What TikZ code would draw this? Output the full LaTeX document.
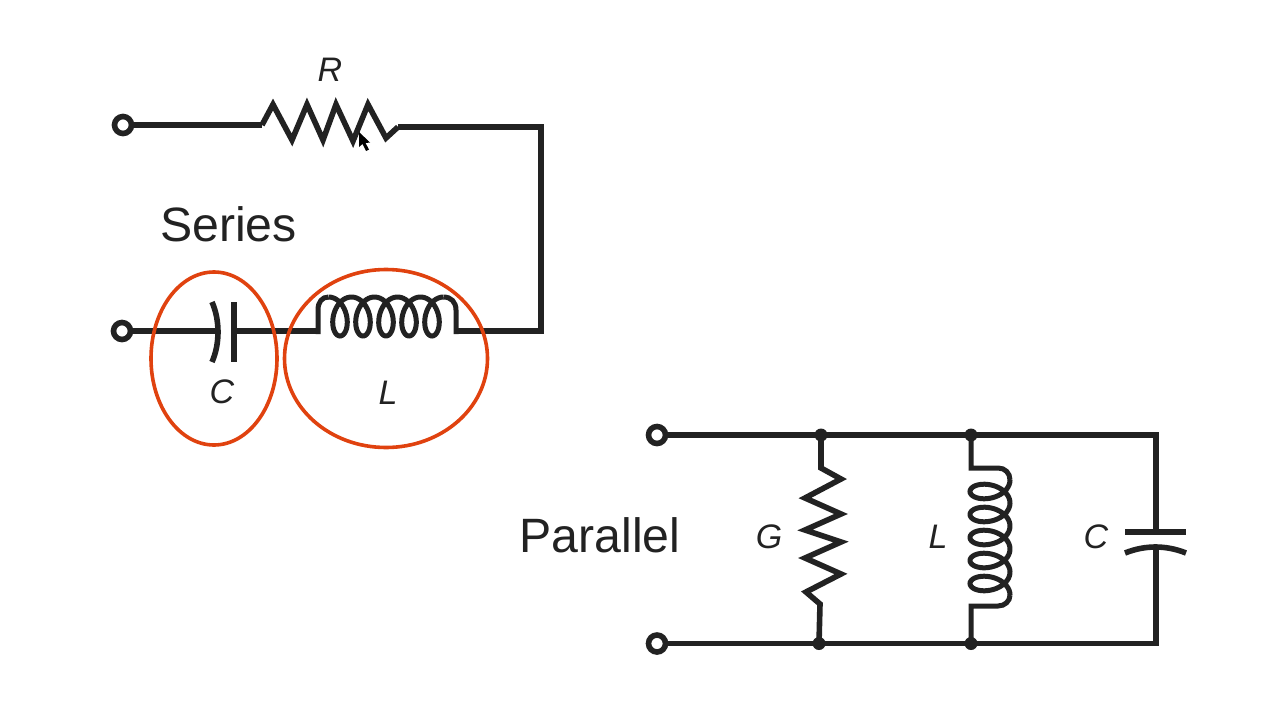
\documentclass[tikz,border=0pt]{standalone}
\usepackage{fontspec}
\setmainfont{Liberation Sans}
\begin{document}
\begin{tikzpicture}[x=1pt,y=-1pt,
  wire/.style={draw=ink,line width=5.6pt,line join=miter,line cap=butt},
  coil/.style={draw=ink,line width=5pt},
  terminal/.style={circle,draw=ink,fill=white,line width=5.6pt,minimum size=17pt,inner sep=0pt,outer sep=0pt},
  junction/.style={circle,fill=ink,minimum size=13pt,inner sep=0pt,outer sep=0pt},
  ring/.style={draw=redring,line width=3.6pt},
  big/.style={font=\fontsize{48.2}{50}\selectfont,text=ink,anchor=base west,inner sep=0pt},
  sym/.style={font=\fontsize{34}{36}\selectfont\itshape,text=ink,anchor=base,inner sep=0pt},
  ]
\definecolor{ink}{HTML}{222222}
\definecolor{redring}{HTML}{E0420F}
\useasboundingbox (0,0) rectangle (1280,720);
\fill[white] (0,0) rectangle (1280,720);

% terminals and junctions
\node[terminal] (t1) at (123,125) {};
\node[terminal] (t2) at (122,331) {};
\node[terminal] (t3) at (657,435) {};
\node[terminal] (t4) at (657,643.5) {};
\node[junction] (j1) at (821,435) {};
\node[junction] (j2) at (971,435) {};
\node[junction] (j3) at (819,643.5) {};
\node[junction] (j4) at (971,643.5) {};

% named points
\coordinate (rs) at (262,125);
\coordinate (re) at (398,127);
\coordinate (corner1) at (541,127);
\coordinate (corner2) at (541,331);
\coordinate (lse) at (456,331);
\coordinate (lss) at (318,331);
\coordinate (cs1) at (218,331);
\coordinate (cs2) at (234,331);
\coordinate (corner3) at (1156,435);
\coordinate (corner4) at (1156,643.5);
\coordinate (cp1) at (1156,532);
\coordinate (cp2) at (1156,547);

% series wires
\draw[wire] (t1) -- (rs);
\draw[wire] (re) -- (corner1) -- (corner2) -- (lse);
\draw[wire] (t2) -- (cs1);
\draw[wire] (cs2) -- (lss);
% series resistor
\draw[wire] (rs) -- (273,104.5) -- (292,140) -- (307,104.5) -- (323,140) -- (336,104.5) -- (353,141) -- (368,104.5) -- (386,138) -- (re);
% series capacitor
\draw[wire] (212,302) .. controls (220,320) and (220,344) .. (212,362);
\draw[wire] (234,302) -- (234,362);
% series inductor
\draw[coil] (lss) ++(0,3) -- (318,310) .. controls (318,302) and (322,297) .. (328.5,297);
\draw[coil,smooth] plot[domain=0:31.416,samples=220] ({328.5+23*\x/6.2832+12.5*sin(\x r)},{316.5-19.5*cos(\x r)});
\draw[coil] (443.5,297) .. controls (451,297) and (456,302) .. (456,310) -- (456,334);

% parallel wires
\draw[wire] (t3) -- (j1.center) -- (j2.center) -- (corner3) -- (cp1);
\draw[wire] (t4) -- (j3.center) -- (j4.center) -- (corner4) -- (cp2);
% parallel resistor
\draw[wire] (j1.center) -- (821,468) -- (841,479) -- (805,498) -- (841,514) -- (805,530) -- (841,542) -- (805,558) -- (841,574) -- (806,592) -- (820,604) -- (j3.center);
% parallel inductor
\draw[coil] (j2.center) -- (971,468) -- (998,468) .. controls (1005,468) and (1010,473) .. (1010,480);
\draw[coil,smooth] plot[domain=0:31.416,samples=220] ({990+20*cos(\x r)},{480+23*\x/6.2832+12.5*sin(\x r)});
\draw[coil] (1010,595) .. controls (1010,601) and (1005,606) .. (998,606) -- (971,606) -- (j4.center);
% parallel capacitor
\draw[wire] (1125,532) -- (1186,532);
\draw[wire] (1125,553) .. controls (1145,545) and (1166,545) .. (1186,553);

% annotation rings
\draw[ring] (214,358.5) ellipse [x radius=63, y radius=86.5];
\draw[ring] (386,358.5) ellipse [x radius=101.5, y radius=89];

% mouse cursor
\fill[black] (359,132) -- (359,147) -- (362.5,144) -- (366,151) -- (369,149.5) -- (365.5,143) -- (370,142.5) -- cycle;

% text
\node[big] (series) at (160,241) {Series};
\node[big] (parallel) at (519.5,552) {Parallel};
\node[sym] (lr) at (330,81) {R};
\node[sym] (lc1) at (222,403) {C};
\node[sym] (ll1) at (388,404) {L};
\node[sym] (lg) at (769,548) {G};
\node[sym] (ll2) at (938,548) {L};
\node[sym] (lc2) at (1096,548) {C};
\end{tikzpicture}
\end{document}
